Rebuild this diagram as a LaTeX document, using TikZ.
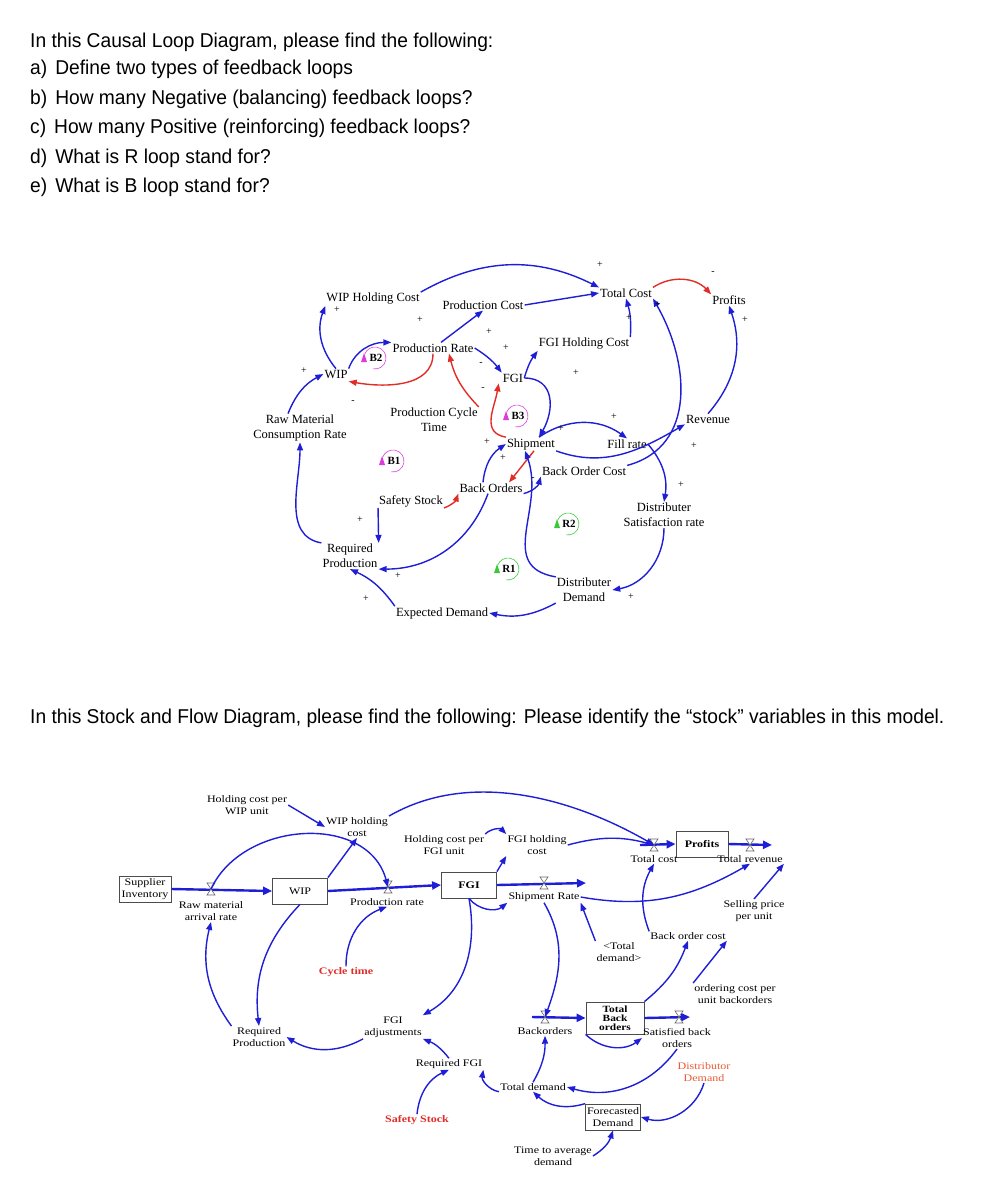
\documentclass[tikz,border=0pt]{standalone}
\usepackage{fontspec}
\usetikzlibrary{arrows.meta}
\newfontfamily\qfont[FakeStretch=0.96]{Liberation Sans}
\newfontfamily\tfont{Liberation Serif}
\newfontfamily\bfontx[FakeStretch=1.2]{Liberation Serif}
\definecolor{ab}{RGB}{30,30,215}
\definecolor{ar}{RGB}{225,45,40}
\definecolor{ao}{RGB}{235,90,50}
\definecolor{lg}{RGB}{60,200,60}
\definecolor{lm}{RGB}{220,60,220}
\tikzset{
 q/.style={anchor=west,inner sep=0,font=\qfont\fontsize{20}{22}\selectfont},
 tv/.style={inner sep=1pt,align=center,font=\tfont\fontsize{12.5}{15}\selectfont},
 bv/.style={inner sep=1pt,align=center,font=\bfontx\fontsize{10}{12.5}\selectfont},
 box/.style={bv,draw=black!70,minimum height=26pt,thick},
 ba/.style={ab,line width=1.4pt,-{Triangle[length=8pt,width=6pt]}},
 ra/.style={ar,line width=1.4pt,-{Triangle[length=8pt,width=6pt]}},
 fl/.style={ab,line width=2.4pt,-{Triangle[length=9pt,width=8pt]}},
 sg/.style={font=\tfont\fontsize{10}{10}\selectfont,inner sep=0},
}
\newcommand\valve[2]{\draw[black!60,line width=0.6pt,fill=white] (#1-4,-#2-6)--(#1+4,-#2-6)--(#1-4,-#2+6)--(#1+4,-#2+6)--cycle;}
\newcommand\loopmk[4]{% x y label colour
 \draw[#4,line width=0.6pt] (#1,-#2)++(-100:11) arc(-100:160:11);
 \fill[#4] (#1-11,-#2+5)--(#1-14,-#2-4)--(#1-8,-#2-4)--cycle;
 \node[font=\tfont\bfseries\fontsize{11}{11}\selectfont,inner sep=0] at (#1+1,-#2) {#3};}
\begin{document}
\begin{tikzpicture}[x=1pt,y=1pt]
\useasboundingbox (0,0) rectangle (990,-1192);
% questions
\node[q] at (30,-42) {In this Causal Loop Diagram, please find the following:};
\node[q] at (30,-69) {a)\hspace{8pt}Define two types of feedback loops};
\node[q] at (30,-99) {b)\hspace{8pt}How many Negative (balancing) feedback loops?};
\node[q] at (30,-128) {c)\hspace{8pt}How many Positive (reinforcing) feedback loops?};
\node[q] at (30,-158) {d)\hspace{8pt}What is R loop stand for?};
\node[q] at (30,-187) {e)\hspace{8pt}What is B loop stand for?};
\node[q] at (30,-718) {In this Stock and Flow Diagram, please find the following: Please identify the “stock” variables in this model.};
% ---------- CLD ----------
\node[tv] (whc) at (373,-299) {WIP Holding Cost};
\node[tv] (pc) at (483,-305) {Production Cost};
\node[tv] (tc) at (626,-293) {Total Cost};
\node[tv] (prof) at (729,-300) {Profits};
\node[tv] (prate) at (433,-348) {Production Rate};
\node[tv] (fgh) at (584,-344) {FGI Holding Cost};
\node[tv] (wip) at (336,-374) {WIP};
\node[tv] (fgi) at (513,-378) {FGI};
\node[tv] (rmcr) at (300,-428) {Raw Material\\Consumption Rate};
\node[tv] (pct) at (434,-420) {Production Cycle\\Time};
\node[tv] (rev) at (708,-419) {Revenue};
\node[tv] (ship) at (531,-444) {Shipment};
\node[tv] (fill) at (627,-444) {Fill rate};
\node[tv] (boc) at (584,-471) {Back Order Cost};
\node[tv] (bo) at (491,-488) {Back Orders};
\node[tv] (ss) at (411,-501) {Safety Stock};
\node[tv] (dsr) at (664,-515) {Distributer\\Satisfaction rate};
\node[tv] (rp) at (350,-556) {Required\\Production};
\node[tv] (dd) at (584,-590) {Distributer\\Demand};
\node[tv] (ed) at (442,-613) {Expected Demand};
\loopmk{375}{358}{B2}{lm}
\loopmk{517}{416}{B3}{lm}
\loopmk{393}{461}{B1}{lm}
\loopmk{568}{524}{R2}{lg}
\loopmk{508}{569}{R1}{lg}
\draw[ba] (whc.north east) to[bend left=28] (tc.north west);
\draw[ba] (pc.east) -- (tc.west);
\draw[ra] (tc.north east) to[bend left=40] (prof.north west);
\draw[ba] (rev.north) to[bend right=30] (prof.south);
\draw[ba] (wip.north) to[bend left=30] (whc.south west);
\draw[ba] (wip.north east) to[out=70,in=180] (prate.north west);
\draw[ra] (prate.south) to[out=-90,in=-10] ([yshift=-2pt]wip.south east);
\draw[ba] ([xshift=8pt]prate.north) -- (pc.south);
\draw[ba] (prate.east) to[bend left=10] (fgi.north west);
\draw[ra] (pct.north east) to[bend left=15] ([xshift=16pt]prate.south);
\draw[ra] (ship.north west) to[out=170,in=-100,looseness=1.2] ([xshift=-3pt]fgi.south west);
\draw[ba] (fgi.east) to[bend left=10] (fgh.south west);
\draw[ba] (fgh.north east) to[bend right=10] (tc.south);
\draw[ba] (fgi.east) to[out=0,in=60,looseness=1.3] ([xshift=8pt]ship.north);
\draw[ba] ([xshift=8pt]ship.north) to[bend left=35] (fill.north);
\draw[ba] (ship.south east) to[out=-20,in=-150] (rev.south west);
\draw[ba] (boc.north east) to[out=15,in=-60,looseness=1.1] (tc.south east);
\draw[ba] (fill.east) to[bend left=25] (dsr.north);
\draw[ra] ([xshift=3pt]ship.south) -- ([xshift=18pt]bo.north);
\draw[ba] ([xshift=-8pt]bo.north) to[bend left=25] (ship.west);
\draw[ba] (bo.south east) to[bend right=30] (boc.south west);
\draw[ra] (ss.south east) to[bend right=25] (bo.south west);
\draw[ba] (ss.south west) -- (rp.north east);
\draw[ba] ([xshift=-3pt]bo.south) to[out=-110,in=0] (rp.south east);
\draw[ba] (rp.north west) to[out=170,in=-90] (rmcr.south);
\draw[ba] ([xshift=-12pt]rmcr.north) to[bend left=20] (wip.west);
\draw[ba] (ed.north west) to[bend right=15] (rp.south);
\draw[ba] (dd.south west) to[bend left=20] (ed.east);
\draw[ba] (dd.north west) to[out=170,in=-70,looseness=1.2] ([xshift=-6pt]ship.south);
\draw[ba] (dsr.south) to[out=-90,in=10] (dd.east);
\foreach \x/\y/\s in {600/265/+,658/305/+,713/273/-,745/320/+,337/310/+,420/320/+,489/332/+,506/348/+,304/371/+,353/402/-,481/364/-,483/389/-,576/373/+,629/318/+,614/417/+,561/429/+,487/442/+,503/458/+,533/479/-,694/446/+,681/485/+,360/520/+,398/576/+,366/599/+,631/597/+}
 \node[sg] at (\x,-\y) {\s};
% ---------- SFD ----------
\node[bv] (hcw) at (247,-805) {Holding cost per\\WIP unit};
\node[bv] (whcb) at (357,-827) {WIP holding\\cost};
\node[bv] (hcf) at (444,-845) {Holding cost per\\FGI unit};
\node[bv] (fghb) at (537,-845) {FGI holding\\cost};
\node[box,minimum width=52pt] (profb) at (702,-844) {\bfseries Profits};
\node[box,minimum width=52pt] (si) at (145,-889) {Supplier\\Inventory};
\node[box,minimum width=55pt] (wipb) at (300,-891) {WIP};
\node[box,minimum width=55pt] (fgib) at (469,-885) {\bfseries FGI};
\node[box,minimum width=58pt,minimum height=32pt,font=\bfontx\bfseries\fontsize{9.5}{9}\selectfont] (tbo) at (615,-1018) {Total\\Back\\orders};
\node[box,minimum width=55pt] (fdb) at (613,-1117) {Forecasted\\Demand};
\coordinate (tcv) at (654,-845);
\coordinate (trv) at (750,-845);
\coordinate (rav) at (211,-889);
\coordinate (prv) at (388,-887);
\coordinate (srv) at (544,-883);
\coordinate (bov) at (545,-1017);
\coordinate (sbv) at (679,-1017);
\coordinate (srend) at (586,-883);
\coordinate (trend) at (772,-845);
\coordinate (sbend) at (690,-1017);
\coordinate (bostart) at (532,-1017);
\coordinate (tcstart) at (640,-845);
\node[bv] (tcl) at (654,-859) {Total cost};
\node[bv] (trl) at (750,-859) {Total revenue};
\node[bv] (ral) at (211,-911) {Raw material\\arrival rate};
\node[bv] (prl) at (387,-902) {Production rate};
\node[bv] (srl) at (544,-897) {Shipment Rate};
\node[bv] (sp) at (754,-911) {Selling price\\per unit};
\node[bv] (bocb) at (688,-936) {Back order cost};
\node[bv] (totd) at (619,-952) {<Total\\demand>};
\node[bv,text=ar,font=\bfontx\bfseries\fontsize{10}{12}\selectfont] (ct) at (346,-972) {Cycle time};
\node[bv] (ocp) at (735,-994) {ordering cost per\\unit backorders};
\node[bv] (bol) at (545,-1031) {Backorders};
\node[bv] (sbl) at (677,-1038) {Satisfied back\\orders};
\node[bv] (fadj) at (393,-1027) {FGI\\adjustments};
\node[bv] (rpb) at (259,-1037) {Required\\Production};
\node[bv] (rfgi) at (449,-1064) {Required FGI};
\node[bv,text=ao] (ddb) at (704,-1072) {Distributor\\Demand};
\node[bv] (tdb) at (533,-1087) {Total demand};
\node[bv,text=ar,font=\bfontx\bfseries\fontsize{10}{12}\selectfont] (ssb) at (417,-1120) {Safety Stock};
\node[bv] (tad) at (553,-1156) {Time to average\\demand};
% flows
\draw[fl] (si.east) -- (wipb.west);
\draw[fl] (wipb.east) -- (fgib.west);
\draw[fl] (fgib.east) -- (srend);
\draw[fl] (tcstart) -- (profb.west);
\draw[fl] (profb.east) -- (trend);
\draw[fl] (bostart) -- (tbo.west);
\draw[fl] (tbo.east) -- (sbend);
\valve{211}{889}\valve{388}{887}\valve{544}{883}\valve{654}{845}\valve{750}{845}\valve{545}{1017}\valve{679}{1017}
% connectors
\draw[ba] (hcw.east) -- (whcb.west);
\draw[ba] (wipb.north east) -- (whcb.south);
\draw[ba] (whcb.north east) to[out=30,in=150,looseness=0.9] (tcv);
\draw[ba] (hcf.north east) to[bend left=45] (fghb.north west);
\draw[ba] (fgib.north east) -- (fghb.south west);
\draw[ba] (fghb.east) to[bend left=15] (tcv);
\draw[ba] (rav) to[out=65,in=105,looseness=1.1] (prv);
\draw[ba] (ct.north) to[bend left=35] (prl.south);
\draw[ba] (wipb.south) to[bend right=25] (rpb.north);
\draw[ba] (rpb.north west) to[bend left=25] (ral.south);
\draw[ba] (fgib.south) to[bend right=45] (srl.south west);
\draw[ba] (fgib.south) to[out=-80,in=30] (fadj.north east);
\draw[ba] (fadj.south west) to[bend left=30] (rpb.east);
\draw[ba] (rfgi.north) to[bend right=15] (fadj.south east);
\draw[ba] (ssb.north) to[bend left=30] (rfgi.south);
\draw[ba] (tdb.south west) to[bend left=45] (rfgi.south east);
\draw[ba] (srl.south) to[out=-60,in=70] (bov);
\draw[ba] (totd.north west) -- (srl.south east);
\draw[ba] (srl.east) to[out=-10,in=-150] (trl.south);
\draw[ba] (sp.north) -- (trl.south east);
\draw[ba] (bocb.north west) to[bend left=25] (tcl.south);
\draw[ba] (tbo.north east) to[bend right=15] (bocb.south);
\draw[ba] (ocp.north west) -- (bocb.south east);
\draw[ba] (tbo.south west) to[bend right=40] (sbl.west);
\draw[ba] (sbl.south) to[bend left=35] (tdb.east);
\draw[ba] (tdb.north) to[bend right=15] (bol.south);
\draw[ba] (fdb.north west) to[bend left=30] (tdb.south);
\draw[ba] (ddb.south) to[bend left=45] (fdb.east);
\draw[ba] (tad.east) to[bend right=20] (fdb.south);
\end{tikzpicture}
\end{document}
